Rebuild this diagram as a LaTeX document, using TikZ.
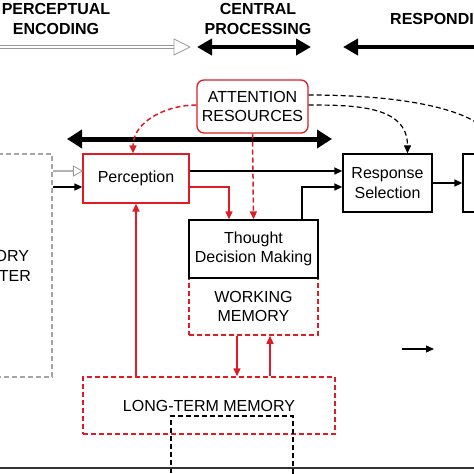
\documentclass[tikz,border=0pt]{standalone}
\usepackage{fontspec}
\setmainfont{Liberation Sans}
\setsansfont{Liberation Sans}
\usetikzlibrary{arrows.meta,calc}
\definecolor{rd}{RGB}{222,28,38}
\begin{document}
\begin{tikzpicture}[x=1pt,y=-1pt,
  txt/.style={font=\fontsize{16}{19.5}\selectfont, align=center},
  hdr/.style={font=\fontsize{16}{19.5}\selectfont\bfseries, align=center},
  redbox/.style={txt, draw=rd, line width=1.3pt, inner sep=0pt},
  blkbox/.style={txt, draw=black, line width=1.3pt, inner sep=0pt, fill=white},
  reddashbox/.style={txt, draw=rd, line width=1.5pt, dash pattern=on 5pt off 3pt, inner sep=0pt},
  graydashbox/.style={txt, draw=black!35, line width=1.5pt, dash pattern=on 5pt off 3pt, inner sep=0pt},
  rarrow/.style={draw=rd, line width=1.5pt, -{Triangle[length=8pt,width=7pt]}},
  rdarrow/.style={rarrow, dash pattern=on 5pt off 3pt},
  barrow/.style={draw=black, line width=1.3pt, -{Triangle[length=8pt,width=7pt]}},
  bdarrow/.style={barrow, line width=1.2pt, dash pattern=on 5pt off 3pt},
  bigarrow/.style={draw=black, line width=4.5pt, {Triangle[length=15pt,width=16pt]}-{Triangle[length=15pt,width=16pt]}},
]
\useasboundingbox (0,0) rectangle (474,474);
\clip (0,0) rectangle (474,474);

% headers
\node[hdr] (hpe) at (56,19) {PERCEPTUAL\\ENCODING};
\node[hdr] (hcp) at (258,19) {CENTRAL\\PROCESSING};
\node[hdr, anchor=west, inner sep=0pt] (hre) at (390,19) {RESPONDING};

% header arrows
\coordinate (ha1) at (0,47);
\coordinate (ha2) at (174,47);
\coordinate (ha3) at (190,47);
\draw[draw=black!40, double=white, double distance=2.6pt, line width=0.8pt] (ha1) -- (ha2);
\draw[draw=black!40, line width=0.8pt, fill=white] ($(ha2)+(0,-8)$) -- (ha3) -- ($(ha2)+(0,8)$) -- cycle;
\coordinate (hb1) at (197,47);
\coordinate (hb2) at (311,47);
\draw[bigarrow] (hb1) -- (hb2);
\coordinate (hc1) at (343,47);
\coordinate (hc2) at (490,47);
\draw[bigarrow, {Triangle[length=15pt,width=16pt]}-] (hc1) -- (hc2);

% boxes
\node[redbox, rounded corners=7pt, minimum width=111pt, minimum height=53pt] (attn) at (252.5,106.5) {ATTENTION\\RESOURCES};
\node[redbox, minimum width=106pt, minimum height=49pt] (perc) at (136,178.5) {Perception};
\node[reddashbox, minimum width=129pt, minimum height=57pt] (wm) at (253.5,306.5) {WORKING\\MEMORY};
\node[blkbox, minimum width=129pt, minimum height=58pt] (thought) at (253.5,249) {Thought\\Decision Making};
\node[reddashbox, minimum width=252pt, minimum height=57pt] (ltm) at (209,405.5) {LONG-TERM MEMORY};
\node[blkbox, minimum width=89pt, minimum height=58pt] (rs) at (387.5,183) {Response\\Selection};
\node[blkbox, minimum width=68pt, minimum height=58pt] (rex) at (497,183) {};
\node[graydashbox, minimum width=112pt, minimum height=223pt] (sens) at (-4,265.5) {};
\node[txt] (senstxt) at (-10,266) {SENSORY\\REGISTER};
\node[draw=black, line width=1.2pt, dash pattern=on 5pt off 3pt, minimum width=122pt, minimum height=104pt, inner sep=0pt] (exec) at (232,468) {};

% big arrow under attention
\coordinate (ba1) at (67,139);
\coordinate (ba2) at (332,139);
\draw[bigarrow, line width=5pt, {Triangle[length=15pt,width=18pt]}-{Triangle[length=15pt,width=18pt]}] (ba1) -- (ba2);

% attention connectors
\draw[rdarrow] ($(attn.west)+(0,-1.5)$) to[out=180, in=90] ($(perc.north)+(-3,0)$);
\draw[rdarrow] (attn.south) -- (thought.north);
\draw[bdarrow] ($(attn.east)+(0,-11.5)$) .. controls ($(attn.east)+(112,-11.5)$) and ($(rex.north)+(-7,-39)$) .. (rex.north);
\draw[bdarrow] ($(attn.east)+(0,-1.5)$) to[out=0, in=90, looseness=1.1] ($(rs.north)+(20,0)$);

% perception connectors
\coordinate (pe1) at ($(perc.east)+(0,8.5)$);
\coordinate (th1) at ($(thought.north)+(-24.5,0)$);
\draw[rarrow] (pe1) -| (th1);
\coordinate (pe2) at ($(perc.east)+(0,-7.5)$);
\draw[barrow] (pe2) -- (pe2 -| rs.west);
\coordinate (th2) at ($(thought.north)+(48.5,0)$);
\coordinate (rs2) at ($(rs.west)+(0,4)$);
\draw[barrow] (th2) |- (rs2);
\draw[barrow] (rs.east) -- (rex.west);

% sensory to perception
\coordinate (pw1) at ($(perc.west)+(0,-7.5)$);
\coordinate (pw2) at ($(perc.west)+(0,8.5)$);
\draw[draw=black!30, line width=2pt] (pw1 -| sens.east) -- ($(pw1)+(-8,0)$);
\draw[draw=black!40, line width=0.8pt, fill=white] ($(pw1)+(-9,-5)$) -- (pw1) -- ($(pw1)+(-9,5)$) -- cycle;
\draw[barrow] (pw2 -| sens.east) -- (pw2);

% memory connectors
\draw[rarrow] ($(ltm.north)+(-73,0)$) -- (perc.south);
\coordinate (d1) at ($(wm.south)+(-16.5,0)$);
\coordinate (u1) at ($(wm.south)+(16.5,0)$);
\draw[rarrow] (d1) -- (d1 |- ltm.north);
\draw[rarrow] (u1 |- ltm.north) -- (u1);

% legend arrow
\coordinate (la1) at (402,349);
\coordinate (la2) at (434,349);
\draw[barrow] (la1) -- (la2);

% bottom line
\coordinate (bl1) at (0,468);
\coordinate (bl2) at (474,468);
\draw[draw=black!80, line width=2pt] (bl1) -- (bl2);
\end{tikzpicture}
\end{document}
